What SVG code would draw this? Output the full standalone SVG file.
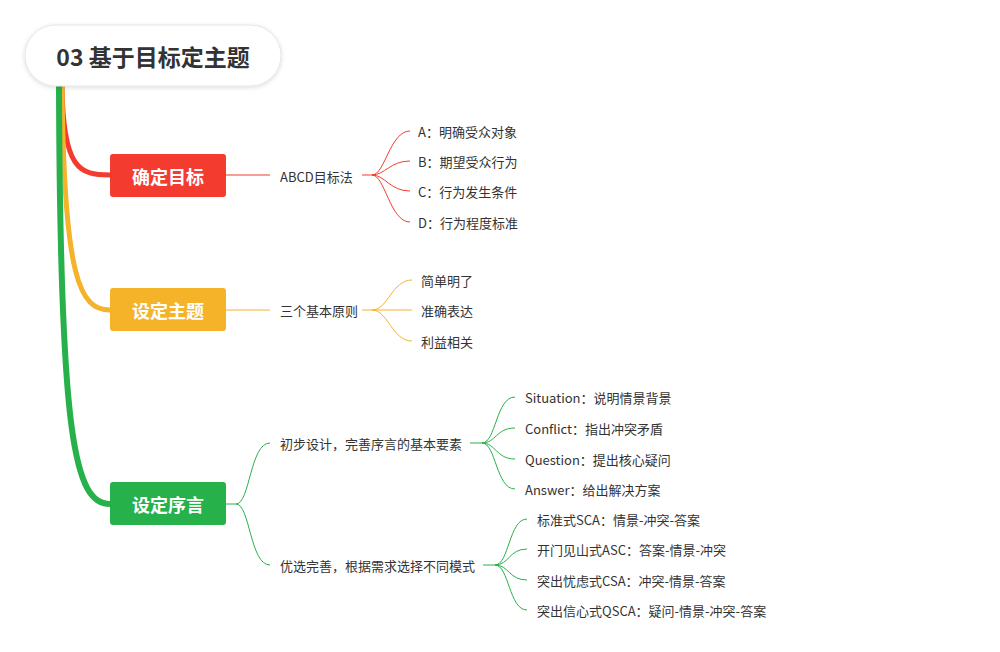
<svg xmlns="http://www.w3.org/2000/svg" width="1000" height="652" viewBox="0 0 1000 652">
<defs>
<style>
text{font-family:"Noto Sans CJK SC","Microsoft YaHei",sans-serif;}
.t{font-size:13px;fill:#333;dominant-baseline:central}
.n{font-size:18px;font-weight:bold;fill:#fff;text-anchor:middle;dominant-baseline:central}
.r{stroke:#f33c2f;fill:none;stroke-width:1}
.y{stroke:#f5b32a;fill:none;stroke-width:1}
.g{stroke:#27b14b;fill:none;stroke-width:1}
</style>
<filter id="sh" x="-20%" y="-40%" width="140%" height="180%"><feDropShadow dx="0" dy="1" stdDeviation="2" flood-color="#000" flood-opacity="0.15"/></filter>
</defs>
<rect width="1000" height="652" fill="#fff"/>
<g id="connectors">
<path d="M62 86 C63 170 80 175 110 175" stroke="#f33c2f" stroke-width="5" fill="none"/>
<path d="M62 86 C64 280 80 310 110 310" stroke="#f5b32a" stroke-width="5" fill="none"/>
<path d="M59 86 C60 440 75 504 110 504" stroke="#27b14b" stroke-width="6" fill="none"/>
<path class="r" d="M226 175 H270"/>
<path class="r" d="M362 175 H372 M372 175 C385 175 390 131 410 131 M372 175 C385 175 390 161 410 161 M372 175 C385 175 390 191 410 191 M372 175 C385 175 390 222 410 222"/>
<path class="y" d="M226 310 H270"/>
<path class="y" d="M362 310 H372 M372 310 C388 310 392 280 412 280 M372 310 H412 M372 310 C388 310 392 341 412 341"/>
<path class="g" d="M226 504 H236 M236 504 C250 504 250 443 270 443 M236 504 C250 504 250 565 270 565"/>
<path class="g" d="M470 443 H482 M482 443 C496 443 496 397 515 397 M482 443 C496 443 496 428 515 428 M482 443 C496 443 496 459 515 459 M482 443 C496 443 496 489 515 489"/>
<path class="g" d="M483 565 H495 M495 565 C509 565 509 519 527 519 M495 565 C509 565 509 549 527 549 M495 565 C509 565 509 580 527 580 M495 565 C509 565 509 610 527 610"/>
</g>
<g id="root">
<rect x="25" y="25" width="256" height="61" rx="30.5" fill="#fff" stroke="#e6e6e6" filter="url(#sh)"/>
<text x="153" y="56" font-size="23" font-weight="bold" fill="#333" text-anchor="middle" dominant-baseline="central">03 基于目标定主题</text>
</g>
<g id="n1"><rect x="110" y="154" width="116" height="43" rx="3" fill="#f33c2f"/><text class="n" x="168" y="175.5">确定目标</text></g>
<g id="n2"><rect x="110" y="288" width="116" height="43" rx="3" fill="#f5b32a"/><text class="n" x="168" y="309.5">设定主题</text></g>
<g id="n3"><rect x="110" y="482" width="116" height="43" rx="3" fill="#27b14b"/><text class="n" x="168" y="503.5">设定序言</text></g>
<g id="leaves">
<text class="t" x="280" y="176">ABCD目标法</text>
<text class="t" x="418" y="131">A：明确受众对象</text>
<text class="t" x="418" y="161">B：期望受众行为</text>
<text class="t" x="418" y="191">C：行为发生条件</text>
<text class="t" x="418" y="222">D：行为程度标准</text>
<text class="t" x="280" y="310">三个基本原则</text>
<text class="t" x="421" y="280">简单明了</text>
<text class="t" x="421" y="310">准确表达</text>
<text class="t" x="421" y="341">利益相关</text>
<text class="t" x="280" y="443">初步设计，完善序言的基本要素</text>
<text class="t" x="525" y="397">Situation：说明情景背景</text>
<text class="t" x="525" y="428">Conflict：指出冲突矛盾</text>
<text class="t" x="525" y="459">Question：提出核心疑问</text>
<text class="t" x="525" y="489">Answer：给出解决方案</text>
<text class="t" x="280" y="565">优选完善，根据需求选择不同模式</text>
<text class="t" x="537" y="519">标准式SCA：情景-冲突-答案</text>
<text class="t" x="537" y="549">开门见山式ASC：答案-情景-冲突</text>
<text class="t" x="537" y="580">突出忧虑式CSA：冲突-情景-答案</text>
<text class="t" x="537" y="610">突出信心式QSCA：疑问-情景-冲突-答案</text>
</g>
</svg>
